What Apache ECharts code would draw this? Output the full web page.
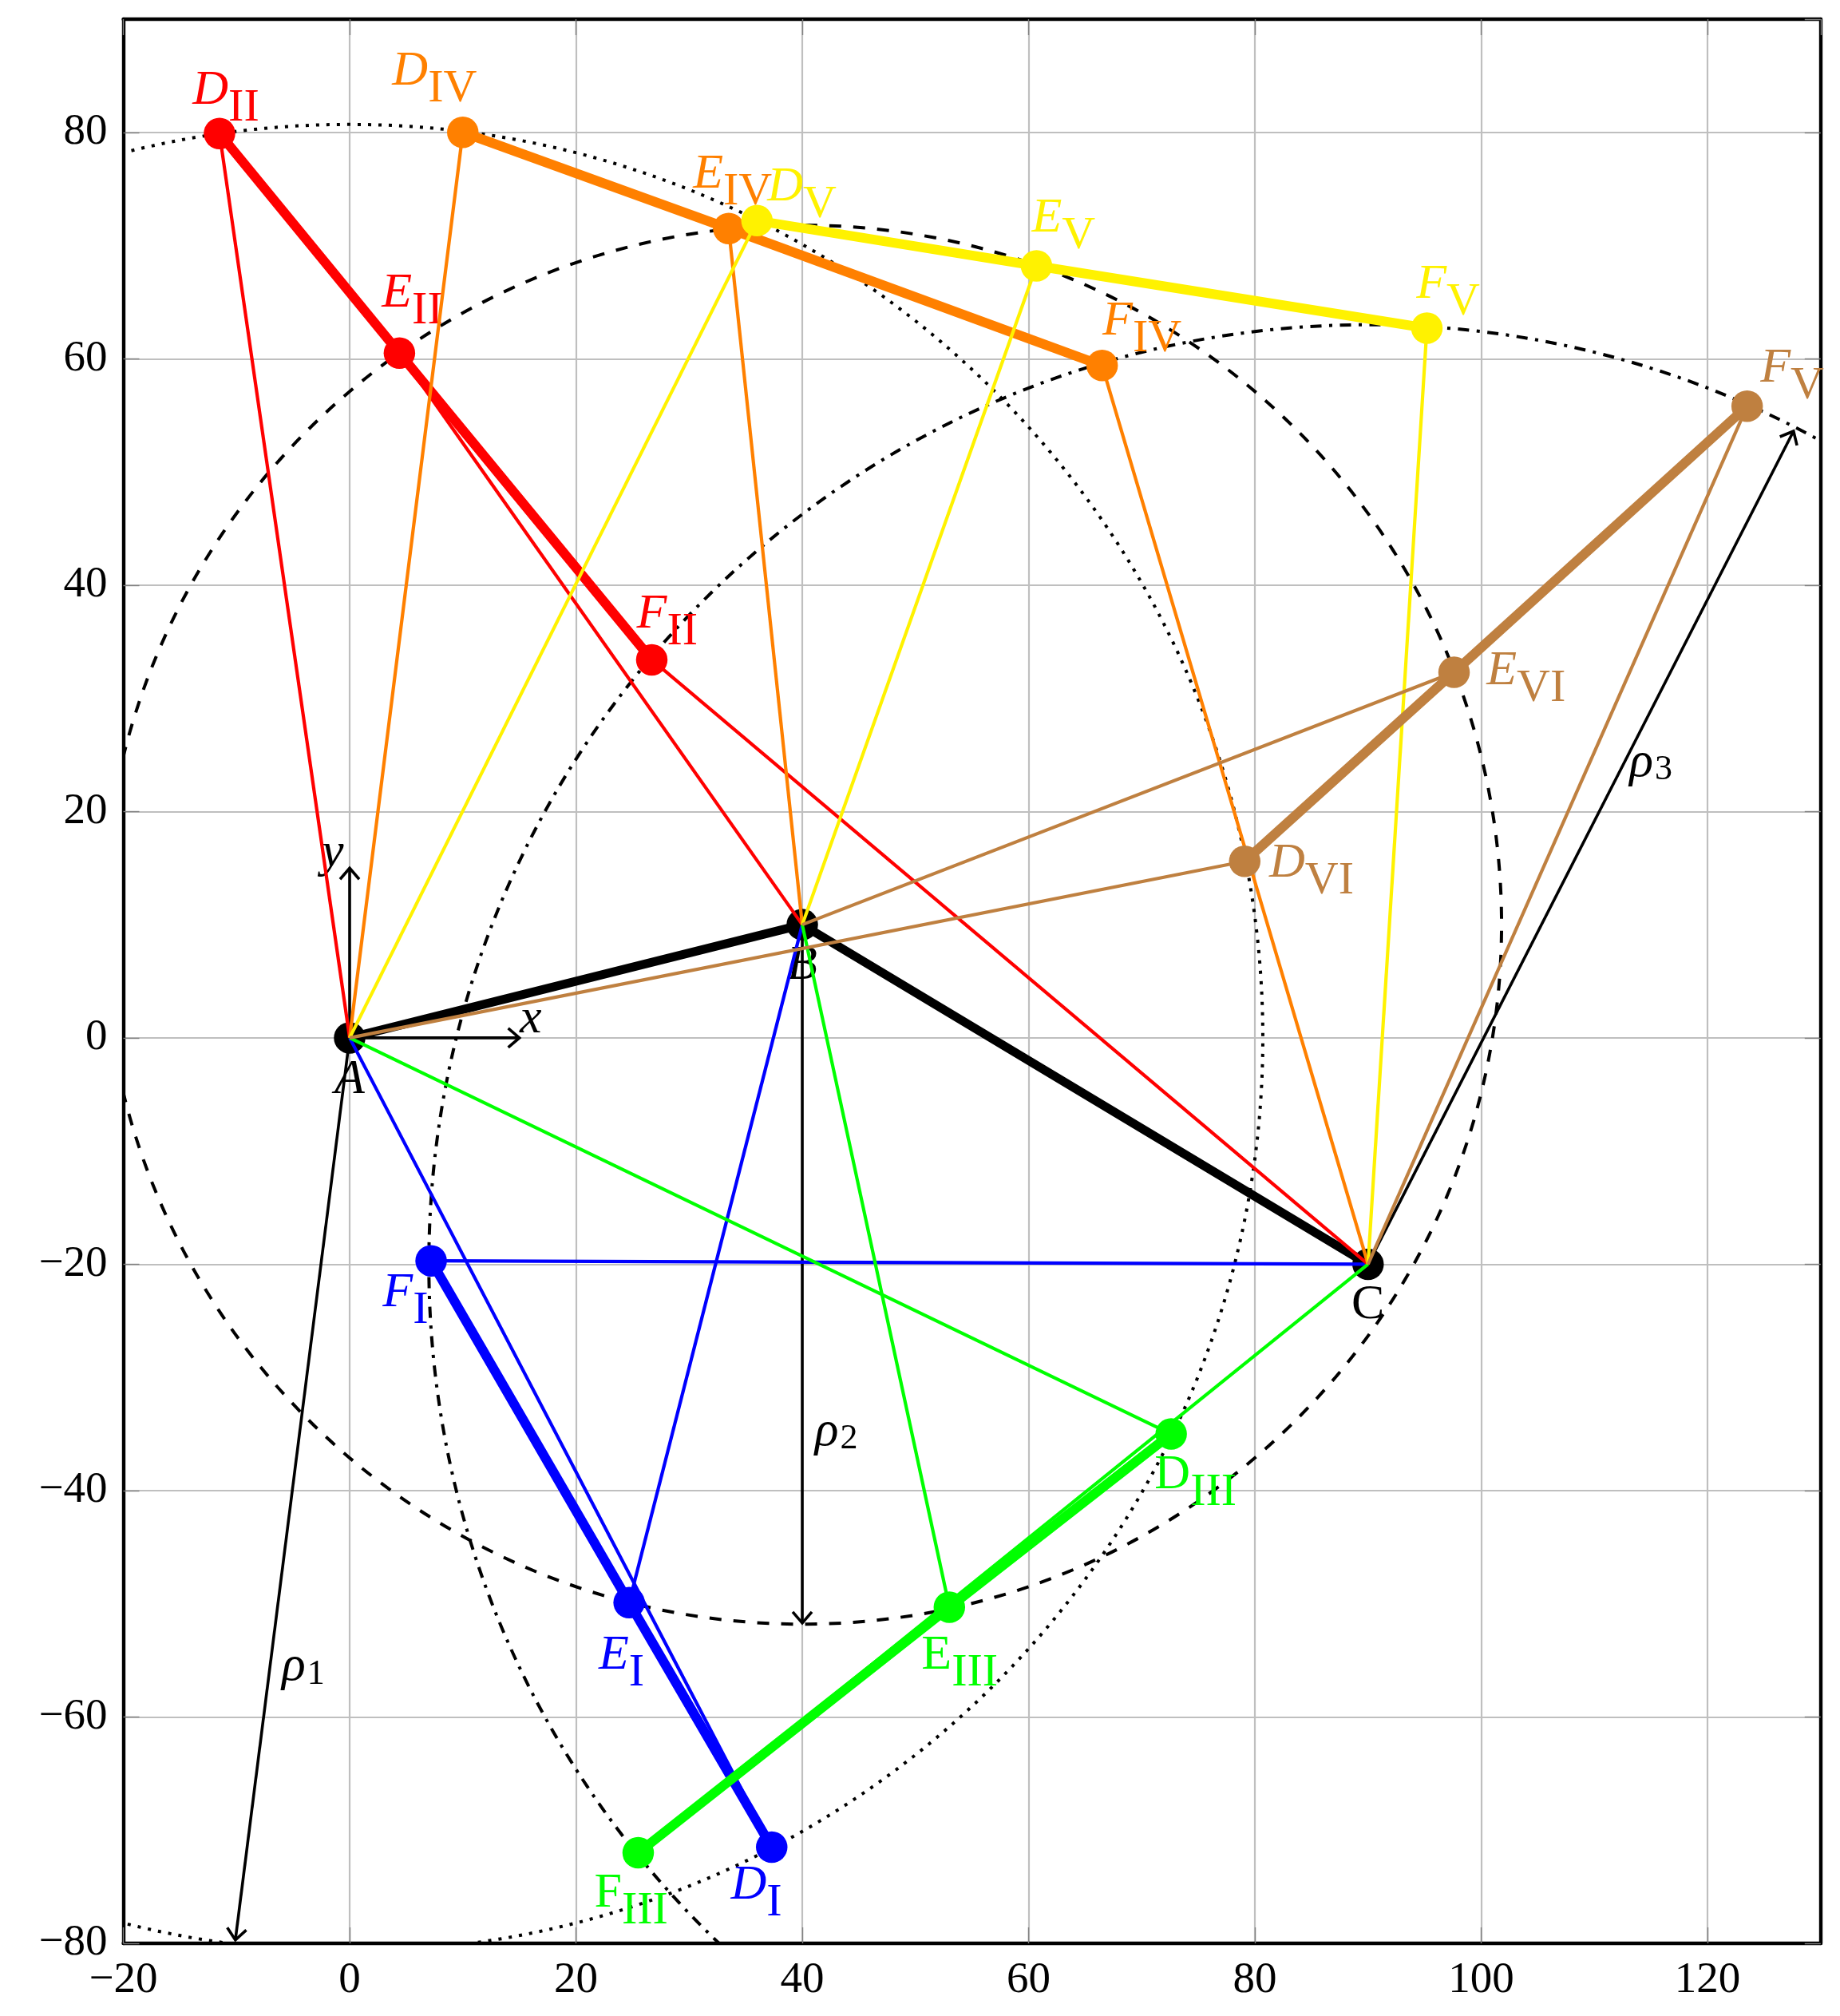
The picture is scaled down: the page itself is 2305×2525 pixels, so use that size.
<!DOCTYPE html>
<html>
<head>
<meta charset="utf-8">
<style>html,body{margin:0;padding:0;background:#fff}#c{width:2305px;height:2525px}</style>
<script src="https://cdn.jsdelivr.net/npm/echarts@6/dist/echarts.min.js"></script>
</head>
<body>
<div id="c"></div>
<script>
// ---- data ----
const xTicks = [-20, 0, 20, 40, 60, 80, 100, 120];
const yTicks = [-80, -60, -40, -20, 0, 20, 40, 60, 80];
const xRange = [-20, 130];
const yRange = [-80, 90];

const pointA = [0, 0];
const pointB = [40, 10];
const pointC = [90, -20];

// order in each: D, E, F
const pointsI   = [[37.3, -71.5], [24.7, -49.9], [7.2, -19.7]];
const pointsII  = [[-11.5, 79.9], [4.4, 60.5], [26.7, 33.4]];
const pointsIII = [[72.6, -35.0], [53.0, -50.3], [25.5, -72.0]];
const pointsIV  = [[10.0, 80.0], [33.5, 71.5], [66.5, 59.4]];
const pointsV   = [[36.0, 72.2], [60.7, 68.2], [95.2, 62.7]];
const pointsVI  = [[79.1, 15.6], [97.6, 32.3], [123.5, 55.8]];

const romanNames = ['I', 'II', 'III', 'IV', 'V', 'VI'];
const letterNames = ['D', 'E', 'F'];
const anchorNames = ['A', 'B', 'C'];
const subscriptOverride = {VI: ['VI', 'VI', 'V']};

const rho1 = 80.7;
const rho2 = 61.8;
const rho3 = 83.0;

const rho1Tip = [-10.1, -79.7];
const rho2Tip = [40, -51.7];
const rho3Tip = [127.6, 53.6];
const xArrowTip = [15, 0];
const yArrowTip = [0, 15];

const rho1LabelAt = [-4.1, -55.6];
const rho2LabelAt = [43.0, -34.8];
const rho3LabelAt = [115.0, 24.3];
const xLabelAt = [16, 1.6];
const yLabelAt = [-1.5, 16.3];

// ---- presentation ----
const SERIF = '"Liberation Serif", serif';
const K = 1.61;
const familyStyles = {
  I:   {points: pointsI,   color: '#0000ff', upright: false},
  II:  {points: pointsII,  color: '#ff0000', upright: false},
  III: {points: pointsIII, color: '#00ff00', upright: true},
  IV:  {points: pointsIV,  color: '#ff8000', upright: false},
  V:   {points: pointsV,   color: '#fff200', upright: false},
  VI:  {points: pointsVI,  color: '#bf8040', upright: false}
};
// label centre relative to its point, in screen px of the 1568-high preview
const labelOffsets = {
  I:   [[-12, 30], [-6, 41], [-20, 25]],
  II:  [[5, -33], [10, -46], [12, -35]],
  III: [[19, 32], [8, 38], [-5.5, 32]],
  IV:  [[-22, -47], [3, -42], [31, -34]],
  V:   [[35, -26], [21, -37], [16.5, -34]],
  VI:  [[52, 2], [56, -1], [35, -29]]
};

function rich(color, upright) {
  return {
    m: {color, fontFamily: SERIF, fontSize: 62, fontStyle: upright ? 'normal' : 'italic', lineHeight: 62},
    s: {color, fontFamily: SERIF, fontSize: 58, padding: [44, 0, 0, 0], lineHeight: 58},
    r: {color, fontFamily: SERIF, fontSize: 62, fontStyle: 'italic', lineHeight: 62},
    t: {color, fontFamily: SERIF, fontSize: 44, padding: [18, 0, 0, 2], lineHeight: 44}
  };
}

const series = [];
let z = 3;

// circles
const circles = [
  {c: pointA, r: rho1, dash: [4, 9]},
  {c: pointB, r: rho2, dash: [15, 15]},
  {c: pointC, r: rho3, dash: [14, 9.5, 4, 9.5]}
];
series.push({
  type: 'custom', coordinateSystem: 'cartesian2d', clip: true, z: z++, silent: true,
  data: circles.map((o, i) => [o.c[0], o.c[1], o.r, i]),
  encode: {x: 0, y: 1},
  renderItem(params, api) {
    const c = api.coord([api.value(0), api.value(1)]);
    const size = api.size([api.value(2), api.value(2)]);
    return {
      type: 'ellipse',
      shape: {cx: c[0], cy: c[1], rx: size[0], ry: size[1]},
      style: {fill: 'none', stroke: '#000', lineWidth: 4, lineDash: circles[api.value(3)].dash}
    };
  }
});

// arrows
const arrows = [
  [pointA, rho1Tip], [pointB, rho2Tip], [pointC, rho3Tip], [pointA, xArrowTip], [pointA, yArrowTip]
];
series.push({
  type: 'custom', coordinateSystem: 'cartesian2d', clip: false, z: z++, silent: true,
  data: arrows.map(a => [a[0][0], a[0][1], a[1][0], a[1][1]]),
  encode: {x: [0, 2], y: [1, 3]},
  renderItem(params, api) {
    const p0 = api.coord([api.value(0), api.value(1)]);
    const p1 = api.coord([api.value(2), api.value(3)]);
    const ang = Math.atan2(p1[1] - p0[1], p1[0] - p0[0]);
    const bx = Math.cos(ang), by = Math.sin(ang);
    const L = 14, W = 12;
    const a = [p1[0] - bx * L - by * W, p1[1] - by * L + bx * W];
    const b = [p1[0] - bx * L + by * W, p1[1] - by * L - bx * W];
    const st = {fill: 'none', stroke: '#000', lineWidth: 3.6};
    return {type: 'group', children: [
      {type: 'line', shape: {x1: p0[0], y1: p0[1], x2: p1[0], y2: p1[1]}, style: st},
      {type: 'polyline', shape: {points: [a, p1, b]}, style: st}
    ]};
  }
});

// free text labels
function textSeries(items) {
  return {
    type: 'scatter', symbolSize: 0, z: z++, silent: true,
    itemStyle: {opacity: 1},
    data: items.map(t => ({
      value: t.at,
      label: {show: true, position: 'inside', formatter: t.text, rich: rich('#000', false), opacity: 1}
    }))
  };
}
series.push(textSeries([
  {at: xLabelAt, text: '{m|x}'},
  {at: yLabelAt, text: '{m|y}'},
  {at: rho1LabelAt, text: '{r|ρ}{t|1}'},
  {at: rho2LabelAt, text: '{r|ρ}{t|2}'},
  {at: rho3LabelAt, text: '{r|ρ}{t|3}'}
]));

// black base triangle
series.push({
  type: 'line', data: [pointA, pointB, pointC], showSymbol: false, z: z++, silent: true,
  lineStyle: {color: '#000', width: 11, join: 'round'}, itemStyle: {color: '#000'}
});
series.push({
  type: 'scatter', symbolSize: 39.5, itemStyle: {color: '#000', opacity: 1}, z: z++, silent: true,
  data: [pointA, pointB, pointC].map((p, i) => ({
    value: p,
    label: {
      show: true, position: 'inside', offset: [[0, 33], [0, 32], [0, 32]][i].map(v => v * K),
      formatter: '{m|' + anchorNames[i] + '}',
      rich: rich('#000', i === 2)
    }
  }))
});

// coloured families
romanNames.forEach(name => {
  const f = familyStyles[name];
  const anchors = [pointA, pointB, pointC];
  f.points.forEach((p, i) => {
    series.push({
      type: 'line', data: [anchors[i], p], showSymbol: false, z: z++, silent: true,
      lineStyle: {color: f.color, width: 4.2}, itemStyle: {color: f.color}
    });
  });
  series.push({
    type: 'line', data: f.points, showSymbol: false, z: z++, silent: true,
    lineStyle: {color: f.color, width: 12, join: 'round'}, itemStyle: {color: f.color}
  });
  series.push({
    type: 'scatter', symbolSize: 39.5, z: z++, silent: true,
    itemStyle: {color: f.color, opacity: 1},
    data: f.points.map((p, i) => ({
      value: p,
      label: {
        show: true, position: 'inside',
        offset: labelOffsets[name][i].map(v => v * K),
        formatter: '{m|' + letterNames[i] + '}{s|' + (subscriptOverride[name] ? subscriptOverride[name][i] : name) + '}',
        rich: rich(f.color, f.upright)
      }
    }))
  });
});

// ---- axes ----
const frame = {show: true, onZero: false, lineStyle: {color: '#000', width: 4.4}};
const tick = {show: true, inside: true, length: 20, lineStyle: {color: '#808080', width: 1.4}};
const grey = {show: true, lineStyle: {color: '#bfbfbf', width: 2.2, type: 'solid'}};
function fmt(list) {
  return v => list.includes(v) ? String(v).replace('-', '\u2212') : '';
}
const tickFont = {color: '#000', fontFamily: SERIF, fontSize: 55};
const option = {
  animation: false,
  backgroundColor: '#fff',
  grid: {left: 154.5, top: 24, width: 2126.3, height: 2410, containLabel: false},
  xAxis: [
    {type: 'value', position: 'bottom', min: xRange[0], max: xRange[1], interval: 20,
     axisLine: frame, axisTick: tick, splitLine: grey,
     axisLabel: Object.assign({show: true, margin: 19, formatter: fmt(xTicks), showMaxLabel: false}, tickFont)},
    {type: 'value', position: 'top', min: xRange[0], max: xRange[1], interval: 20,
     axisLine: frame, axisTick: tick, splitLine: {show: false}, axisLabel: {show: false}}
  ],
  yAxis: [
    {type: 'value', position: 'left', min: yRange[0], max: yRange[1], interval: 20,
     axisLine: frame, axisTick: tick, splitLine: grey,
     axisLabel: Object.assign({show: true, margin: 20, formatter: fmt(yTicks), showMaxLabel: false}, tickFont)},
    {type: 'value', position: 'right', min: yRange[0], max: yRange[1], interval: 20,
     axisLine: frame, axisTick: tick, splitLine: {show: false}, axisLabel: {show: false}}
  ],
  series
};
const chart = echarts.init(document.getElementById('c'), null, {renderer: 'canvas'});
chart.setOption(option);
</script>
</body>
</html>
